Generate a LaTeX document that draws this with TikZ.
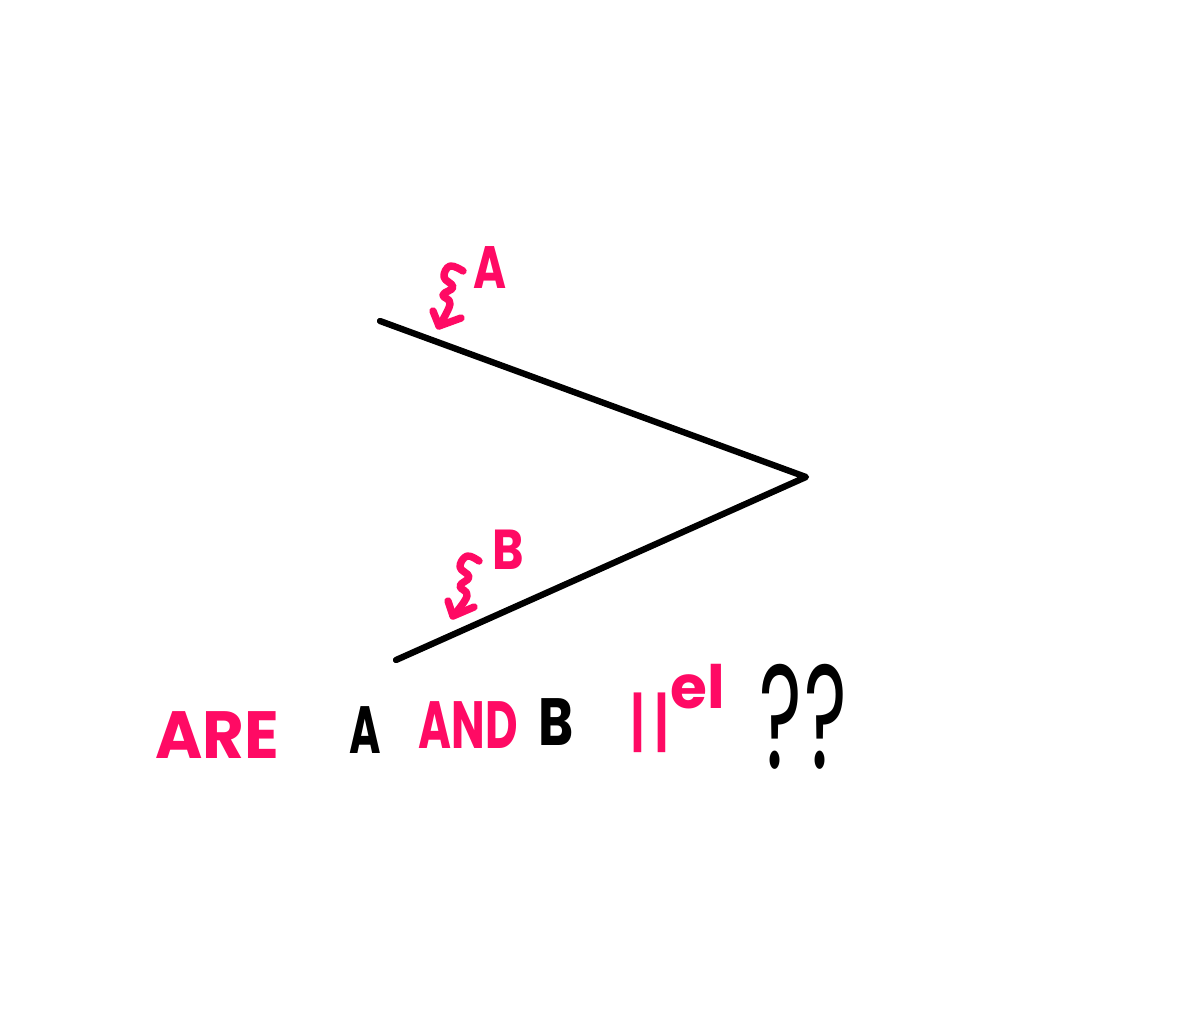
\documentclass[tikz,border=0pt]{standalone}
\usepackage{fontspec}
\setmainfont{Poppins}
\definecolor{pinkc}{RGB}{255,10,100}
\begin{document}
\begin{tikzpicture}[x=0.01cm,y=-0.01cm,
  stroke/.style={line width=1.8pt,line cap=round,line join=round},
  squig/.style={pinkc,line width=2.1pt,line cap=round,line join=round},
  pinktext/.style={text=pinkc,font=\fontsize{19}{20}\selectfont\bfseries,inner sep=0pt},
  blacktext/.style={text=black,font=\fontsize{19}{20}\selectfont\bfseries,inner sep=0pt}]
\useasboundingbox (0,0) rectangle (1200,1011);
% main lines
\coordinate (p1) at (380,321);
\coordinate (v) at (806,477);
\coordinate (p2) at (396,660);
\draw[stroke] (p1) -- (v) -- (p2);
% A label and squiggle
\node[pinktext,font=\fontsize{17}{18}\selectfont\bfseries] (la) at (490,268) {\scalebox{0.75}[1]{A}};
\coordinate (ta) at (439,326);
\draw[squig] plot[smooth,tension=0.7] coordinates {(463,271) (450,266) (444,277) (453,287) (443,295) (450,304) (439,326)};
\draw[squig] (433,311) -- (ta) -- (461,318);
% B label and squiggle
\node[pinktext,font=\fontsize{16}{17}\selectfont\bfseries] (lb) at (508,550) {\scalebox{0.85}[1]{B}};
\coordinate (tb) at (453,616);
\draw[squig] plot[smooth,tension=0.7] coordinates {(479,561) (467,556) (460,567) (469,577) (460,586) (467,596) (453,616)};
\draw[squig] (448,601) -- (tb) -- (474,607);
% bottom text
\node[pinktext,anchor=base] (are) at (217,758) {\scalebox{0.96}[1]{ARE}};
\node[blacktext,anchor=base] (wa) at (365,753) {\scalebox{0.64}[1]{A}};
\node[pinktext,anchor=base] (and) at (468,748) {\scalebox{0.67}[1]{AND}};
\node[blacktext,anchor=base] (wb) at (556,745) {\scalebox{0.8}[1]{B}};
\node[pinktext,anchor=base] (par) at (650,744) {\fontsize{18}{20}\selectfont\bfseries\scalebox{0.7}[1]{|\hspace{0.16cm}|}};
\node[pinktext,anchor=base] (el) at (698,708) {\fontsize{17}{18}\selectfont el};
\node[blacktext,anchor=base,font=\fontsize{42}{44}\selectfont\mdseries] (qq) at (803,768) {\scalebox{0.55}[1]{?\hspace{0.05cm}?}};
\end{tikzpicture}
\end{document}
